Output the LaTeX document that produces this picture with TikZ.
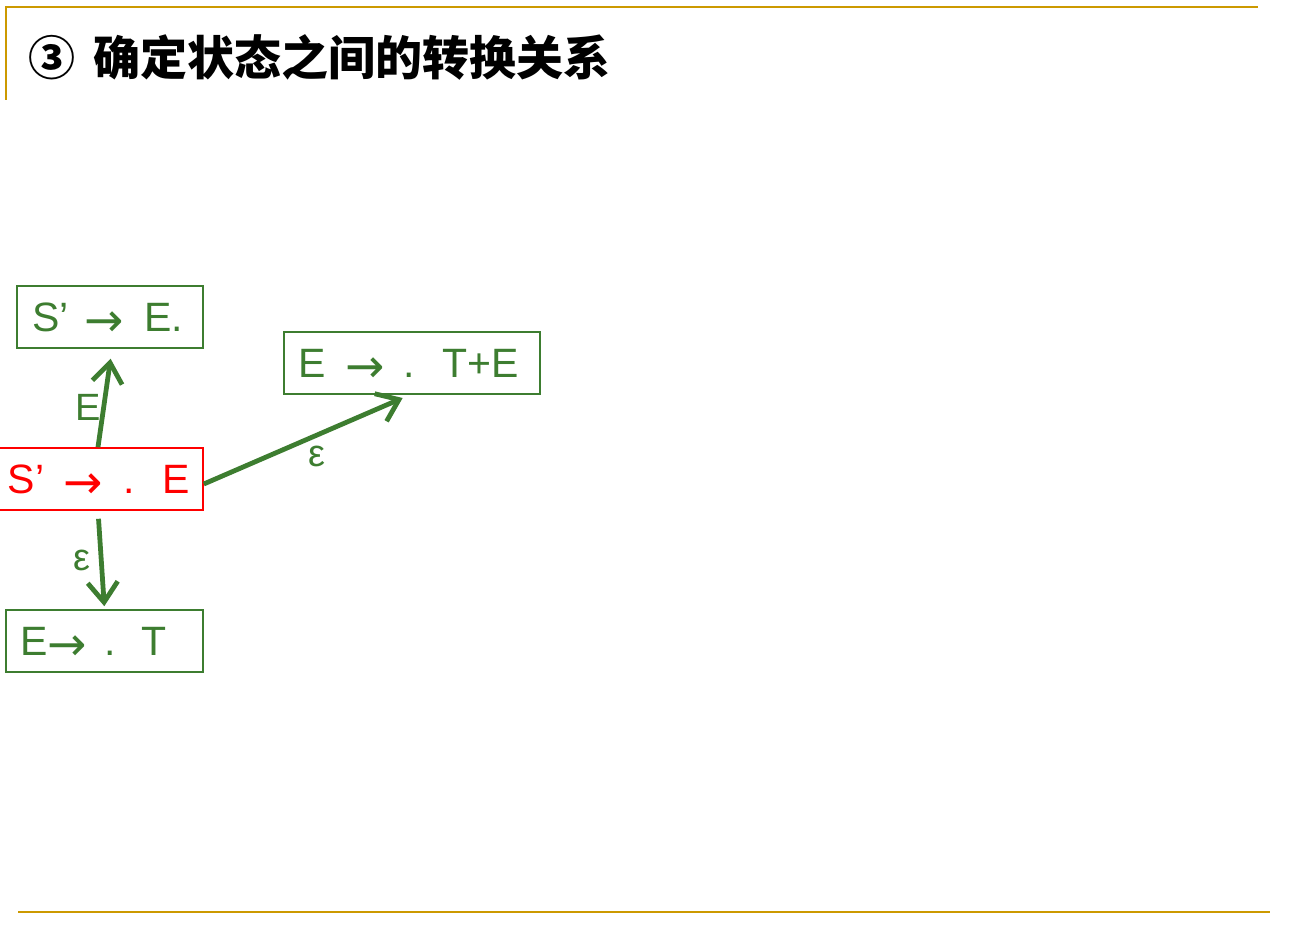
\documentclass[tikz,border=0pt]{standalone}
\usepackage{fontspec}
\setmainfont{Liberation Sans}
\newfontfamily\cjk{Noto Sans CJK SC}
\newfontfamily\symfont{DejaVu Sans}
\usepackage{tikz}
\usetikzlibrary{arrows.meta, positioning}
\definecolor{itemgreen}{RGB}{61,125,48}
\definecolor{rulegold}{RGB}{204,153,0}
\newcommand{\yields}{\raisebox{-5pt}[0pt][0pt]{\symfont\fontsize{47}{48}\selectfont →}}

\begin{document}
\begin{tikzpicture}[x=1pt, y=-1pt,
	state/.style = {draw=itemgreen, line width=1.6pt, text=itemgreen, rectangle, minimum height=62pt, align=left, font=\fontsize{41}{48}\selectfont},
	trans/.style = {draw=itemgreen, line width=4.8pt, -{Straight Barb[length=20pt, width=30pt, line width=4.8pt]}},
	lab/.style = {text=itemgreen, inner sep=0pt, font=\fontsize{38}{44}\selectfont}]
	\useasboundingbox (0,0) rectangle (1290,930);
	% frame lines
	\draw [rulegold, line width=1.6pt] (5,7) -- (1258,7);
	\draw [rulegold, line width=1.6pt] (6,7) -- (6,100);
	\draw [rulegold, line width=1.6pt] (18,912) -- (1270,912);
	\node [anchor=west, inner sep=0pt, font=\cjk\bfseries\fontsize{47}{56}\selectfont] (Title) at (28,57) {③ \hspace{8pt}确定状态之间的转换关系};
	% states
	\node [state, draw=red, text=red, text width=186pt, inner xsep=9pt] (Start) at (101,479) {S’ \hspace{5.6pt}\yields{} \hspace{6.6pt}. \hspace{7.6pt}E};
	\node [state, text width=156pt, inner xsep=15pt] (Accept) at (110,317) {S’ \hspace{2.6pt}\yields{} \hspace{6.6pt}E.};
	\node [state, text width=228pt, inner xsep=14pt] (Sum) at (412,363) {E \hspace{6.6pt}\yields{} \hspace{4.6pt}. \hspace{7.6pt}T+E};
	\node [state, text width=169pt, inner xsep=14pt] (Term) at (104.5,641) {E\yields{} \hspace{4.6pt}. \hspace{4.6pt}T};
	% transitions
	\draw [trans, shorten >=10pt] ([xshift=-3pt]Start.north) -- ([xshift=2pt]Accept.south) node [lab, pos=0.4, left] {E};
	\draw [trans, shorten >=8pt] ([yshift=-5pt]Start.east) -- ([xshift=-2pt]Sum.south) node [lab, pos=0.55, below=9pt] {ε};
	\draw [trans, shorten <=8pt, shorten >=3pt] ([xshift=-3pt]Start.south) -- (Term.north) node [lab, midway, left=8pt] {ε};
\end{tikzpicture}
\end{document}
